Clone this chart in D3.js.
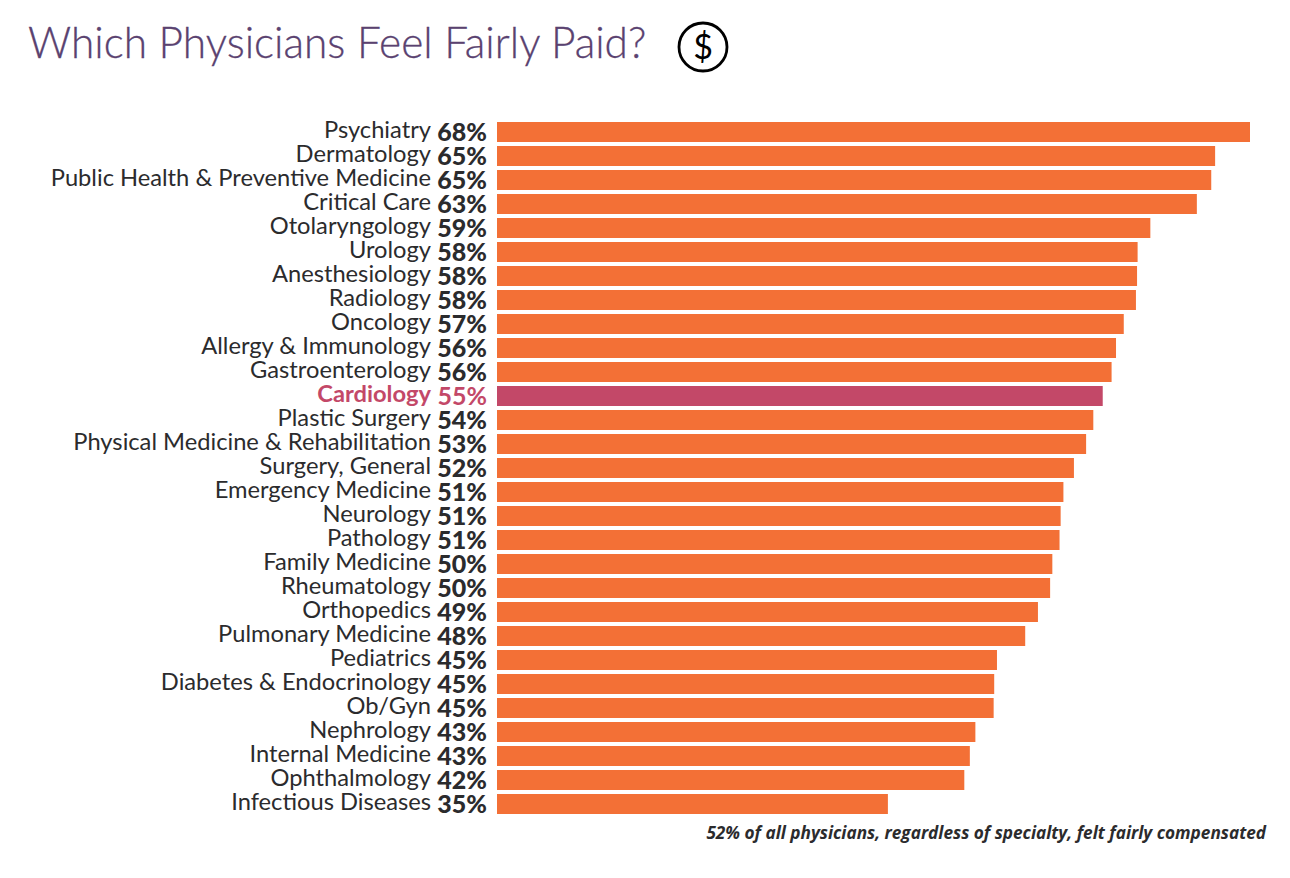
<!DOCTYPE html>
<html>
<head>
<meta charset="utf-8">
<script src="https://cdn.jsdelivr.net/npm/d3@7"></script>
<style>
  html, body { margin: 0; padding: 0; background: #fff; }
  svg { display: block; }
</style>
</head>
<body>
<div id="chart-container"></div>
<script>
var specialties = ["Psychiatry", "Dermatology", "Public Health & Preventive Medicine", "Critical Care",
    "Otolaryngology", "Urology", "Anesthesiology", "Radiology", "Oncology", "Allergy & Immunology",
    "Gastroenterology", "Cardiology", "Plastic Surgery", "Physical Medicine & Rehabilitation",
    "Surgery, General", "Emergency Medicine", "Neurology", "Pathology", "Family Medicine", "Rheumatology",
    "Orthopedics", "Pulmonary Medicine", "Pediatrics", "Diabetes & Endocrinology", "Ob/Gyn", "Nephrology",
    "Internal Medicine", "Ophthalmology", "Infectious Diseases"];
// bar lengths
var barValues = [68.0, 64.85, 64.5, 63.2, 59.0, 57.85, 57.8, 57.7, 56.6, 55.9, 55.5, 54.7, 53.85, 53.2, 52.1,
    51.15, 50.9, 50.8, 50.15, 49.95, 48.85, 47.7, 45.15, 44.9, 44.85, 43.2, 42.7, 42.2, 35.3];
// printed percentages
var labelValues = [68, 65, 65, 63, 59, 58, 58, 58, 57, 56, 56, 55, 54, 53, 52, 51, 51, 51, 50, 50, 49, 48,
    45, 45, 45, 43, 43, 42, 35];
var highlighted = "Cardiology";
var titleText = "Which Physicians Feel Fairly Paid?";
var noteText = "52% of all physicians, regardless of specialty, felt fairly compensated";

var svg = d3.select("#chart-container").append("svg")
    .attr("width", 1290)
    .attr("height", 878);

var x = d3.scaleLinear().domain([0, 68]).range([497, 1250]);
var y = d3.scaleBand().domain(specialties).range([120, 816])
    .paddingInner(1 / 6).paddingOuter(1 / 12);

function barColor(d) { return d === highlighted ? "#c34868" : "#f37036"; }
function textColor(d) { return d === highlighted ? "#c34868" : "#2b2b2d"; }

// Title and dollar icon
svg.append("text")
    .attr("x", 28)
    .attr("y", 58)
    .attr("font-family", "Lato")
    .attr("font-weight", 300)
    .attr("font-size", 42.4)
    .attr("fill", "#5a4270")
    .attr("stroke", "#5a4270")
    .attr("stroke-width", 0.3)
    .text(titleText);

svg.append("circle")
    .attr("cx", 703)
    .attr("cy", 47)
    .attr("r", 24)
    .attr("fill", "none")
    .attr("stroke", "#000")
    .attr("stroke-width", 2.8);

svg.append("text")
    .attr("x", 703)
    .attr("y", 59)
    .attr("text-anchor", "middle")
    .attr("font-family", "Lato")
    .attr("font-weight", 400)
    .attr("font-size", 34)
    .attr("fill", "#000")
    .text("$");

// Bars
svg.selectAll("rect.bar")
    .data(specialties)
    .enter()
    .append("rect")
    .attr("class", "bar")
    .attr("x", x(0))
    .attr("y", function(d) { return y(d); })
    .attr("width", function(d, i) { return x(barValues[i]) - x(0); })
    .attr("height", y.bandwidth())
    .attr("fill", barColor);

// Specialty names
svg.selectAll("text.name")
    .data(specialties)
    .enter()
    .append("text")
    .attr("class", "name")
    .attr("x", 431)
    .attr("y", function(d) { return y(d) + 15.5; })
    .attr("text-anchor", "end")
    .attr("font-family", "Lato")
    .attr("font-size", 23.7)
    .attr("font-weight", function(d) { return d === highlighted ? 700 : 400; })
    .attr("fill", textColor)
    .text(function(d) { return d; });

// Percent labels
svg.selectAll("text.pct")
    .data(specialties)
    .enter()
    .append("text")
    .attr("class", "pct")
    .attr("x", 487)
    .attr("y", function(d) { return y(d) + 19; })
    .attr("text-anchor", "end")
    .attr("font-family", "Lato")
    .attr("font-size", 25)
    .attr("font-weight", function(d) { return d === highlighted ? 700 : 900; })
    .attr("fill", textColor)
    .text(function(d, i) { return labelValues[i] + "%"; });

// Footnote
svg.append("text")
    .attr("x", 1266)
    .attr("y", 839)
    .attr("text-anchor", "end")
    .attr("font-family", "Open Sans")
    .attr("font-style", "italic")
    .attr("font-weight", 700)
    .attr("font-size", 17.2)
    .attr("fill", "#2b2b2d")
    .text(noteText);
</script>
</body>
</html>
